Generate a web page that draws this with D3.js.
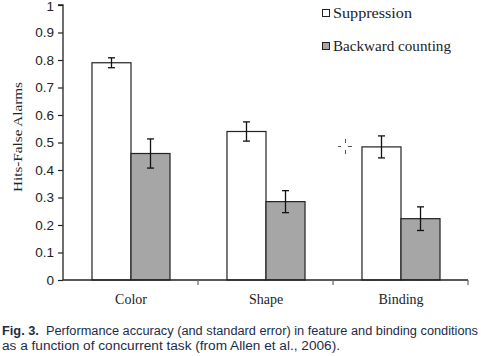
<!DOCTYPE html>
<html><head><meta charset="utf-8">
<script src="https://cdn.jsdelivr.net/npm/d3@7"></script>
<style>body{margin:0;background:#fff}svg{display:block}</style>
</head><body>
<script>
const categories = ["Color", "Shape", "Binding"];
const seriesNames = ["Suppression", "Backward counting"];
const suppression = [0.79, 0.54, 0.484];
const suppressionErr = [0.018, 0.035, 0.04];
const backward = [0.46, 0.285, 0.223];
const backwardErr = [0.053, 0.04, 0.043];
const yTicks = [0, 0.1, 0.2, 0.3, 0.4, 0.5, 0.6, 0.7, 0.8, 0.9, 1];
const yTitle = "Hits-False Alarms";
const captionBold = "Fig. 3.";
const captionLine1 = "Performance accuracy (and standard error) in feature and binding conditions";
const captionLine2 = "as a function of concurrent task (from Allen et al., 2006).";

const colors = ["#ffffff", "#a6a6a6"];
const W = 481, H = 356;
const svg = d3.select("body").append("svg").attr("width", W).attr("height", H);

const x0 = 63, x1 = 468, yTop = 5, yBot = 280;
const x = d3.scaleBand().domain(categories).range([x0, x1]).paddingInner(0).paddingOuter(0);
const xs = d3.scaleBand().domain(seriesNames).range([0, x.bandwidth()]).paddingInner(0).paddingOuter(0.73);
const y = d3.scaleLinear().domain([0, 1]).range([yBot, yTop]);

const data = categories.map((c, i) => ({
  cat: c,
  vals: [
    {s: seriesNames[0], v: suppression[i], e: suppressionErr[i], c: colors[0]},
    {s: seriesNames[1], v: backward[i], e: backwardErr[i], c: colors[1]}
  ]
}));

// bars
const g = svg.selectAll("g.cat").data(data).join("g").attr("class", "cat")
  .attr("transform", d => `translate(${x(d.cat)},0)`);
g.selectAll("rect").data(d => d.vals).join("rect")
  .attr("x", d => xs(d.s) + 0.5)
  .attr("y", d => y(d.v))
  .attr("width", xs.bandwidth())
  .attr("height", d => y(0) - y(d.v))
  .attr("fill", d => d.c)
  .attr("stroke", "#222").attr("stroke-width", 1.2);

// error bars
const eb = g.selectAll("g.err").data(d => d.vals).join("g").attr("class", "err")
  .attr("stroke", "#111").attr("stroke-width", 1.3);
eb.append("line")
  .attr("x1", d => xs(d.s) + xs.bandwidth() / 2 + 0.5).attr("x2", d => xs(d.s) + xs.bandwidth() / 2 + 0.5)
  .attr("y1", d => y(d.v + d.e)).attr("y2", d => y(d.v - d.e));
eb.append("line")
  .attr("x1", d => xs(d.s) + xs.bandwidth() / 2 - 3).attr("x2", d => xs(d.s) + xs.bandwidth() / 2 + 4)
  .attr("y1", d => y(d.v + d.e)).attr("y2", d => y(d.v + d.e));
eb.append("line")
  .attr("x1", d => xs(d.s) + xs.bandwidth() / 2 - 3).attr("x2", d => xs(d.s) + xs.bandwidth() / 2 + 4)
  .attr("y1", d => y(d.v - d.e)).attr("y2", d => y(d.v - d.e));

// y axis
const yAxis = d3.axisLeft(y).tickValues(yTicks).tickSize(5).tickPadding(4)
  .tickFormat(d => d === 0 ? "0" : d === 1 ? "1" : d3.format(".1f")(d));
const ya = svg.append("g").attr("transform", `translate(${x0},0)`).call(yAxis);
ya.select(".domain").attr("stroke", "#222").attr("stroke-width", 1.3).attr("d", `M-5,${yTop}H0V${yBot}`);
ya.selectAll(".tick line").attr("stroke", "#222").attr("stroke-width", 1.2);
ya.selectAll(".tick text").attr("font-family", "Liberation Sans, Arial, sans-serif").attr("font-size", 13.5).attr("fill", "#222")
  .attr("dy", d => d === 1 ? "0.42em" : "0.32em");

// x axis
const xa = svg.append("g").attr("transform", `translate(0,${yBot})`);
xa.append("line").attr("x1", x0).attr("x2", x1).attr("y1", 0).attr("y2", 0).attr("stroke", "#222").attr("stroke-width", 1.3);
xa.selectAll("line.tk").data(categories).join("line").attr("class", "tk")
  .attr("x1", d => x(d) + x.bandwidth()).attr("x2", d => x(d) + x.bandwidth())
  .attr("y1", 0).attr("y2", 5).attr("stroke", "#666").attr("stroke-width", 1.2);
xa.selectAll("text").data(categories).join("text")
  .attr("x", d => x(d) + x.bandwidth() / 2 + 0.5).attr("y", 24)
  .attr("text-anchor", "middle")
  .attr("font-family", "Liberation Serif, Times New Roman, serif").attr("font-size", 14).attr("fill", "#222")
  .text(d => d);

// y title
svg.append("text")
  .attr("transform", `translate(22,137) rotate(-90)`)
  .attr("text-anchor", "middle")
  .attr("font-family", "Liberation Serif, Times New Roman, serif").attr("font-size", 13.5).attr("fill", "#222")
  .attr("textLength", 110).attr("lengthAdjust", "spacingAndGlyphs")
  .text(yTitle);

// legend
const legendLen = [79, 118];
const lg = svg.append("g").selectAll("g").data(seriesNames).join("g")
  .attr("transform", (d, i) => `translate(322,${9 + i * 33})`);
lg.append("rect").attr("x", 0.5).attr("y", 0.5).attr("width", 7).attr("height", 7)
  .attr("fill", (d, i) => colors[i]).attr("stroke", "#222").attr("stroke-width", 1);
lg.append("text").attr("x", 11).attr("y", 9)
  .attr("font-family", "Liberation Serif, Times New Roman, serif").attr("font-size", 14.5).attr("fill", "#222")
  .attr("textLength", (d, i) => legendLen[i]).attr("lengthAdjust", "spacingAndGlyphs")
  .text(d => d);

// cursor artifact
const cur = svg.append("g").attr("stroke", "#555").attr("stroke-width", 1);
cur.append("line").attr("x1", 338).attr("x2", 341).attr("y1", 146.5).attr("y2", 146.5);
cur.append("line").attr("x1", 348).attr("x2", 352).attr("y1", 146.5).attr("y2", 146.5);
cur.append("line").attr("x1", 345.5).attr("x2", 345.5).attr("y1", 139).attr("y2", 143);
cur.append("line").attr("x1", 345.5).attr("x2", 345.5).attr("y1", 150).attr("y2", 154);

// caption
const cap = svg.append("g").attr("font-family", "Liberation Sans Narrow, Liberation Sans, Arial, sans-serif")
  .attr("font-size", 12).attr("fill", "#1c2b4a");
const t1 = cap.append("text").attr("x", 2).attr("y", 335).attr("textLength", 476).attr("lengthAdjust", "spacingAndGlyphs");
t1.append("tspan").attr("font-weight", "bold").text(captionBold);
t1.append("tspan").text("\u00a0\u00a0" + captionLine1);
cap.append("text").attr("x", 2).attr("y", 350).attr("textLength", 338).attr("lengthAdjust", "spacingAndGlyphs").text(captionLine2);
</script>
</body></html>
